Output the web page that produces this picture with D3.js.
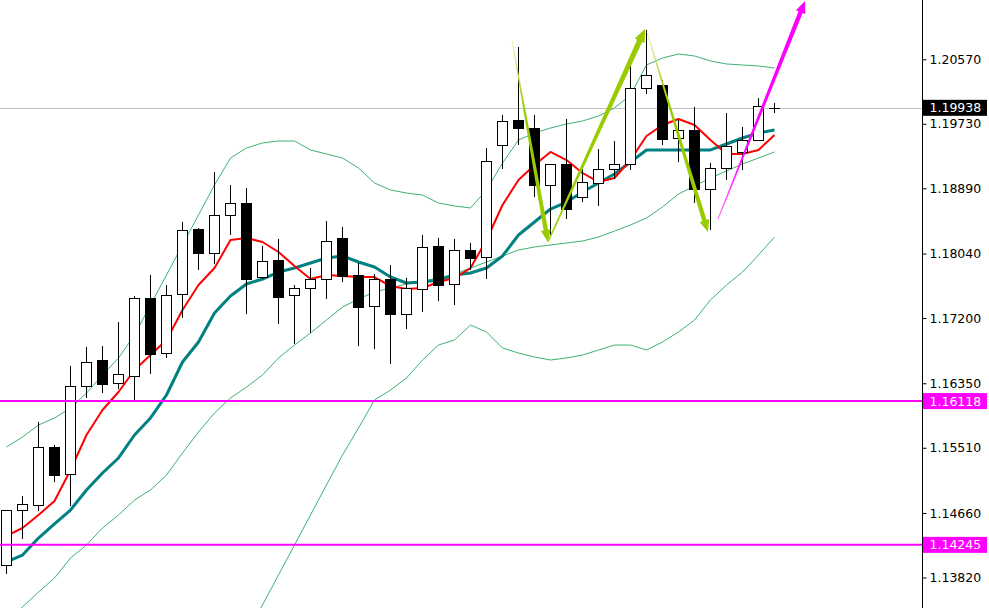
<!DOCTYPE html>
<html><head><meta charset="utf-8">
<script src="https://cdn.jsdelivr.net/npm/d3@7"></script>
<style>html,body{margin:0;padding:0;background:#fff;overflow:hidden}</style>
</head><body>
<svg id="c" width="989" height="608"></svg>
<script>
// ---- data ----
const opens = [1.13979,1.14695,1.14760,1.15520,1.15164,1.16311,1.16653,1.16350,1.16449,1.17461,1.16740,1.17509,1.18356,1.18043,1.18538,1.18698,1.17730,1.17952,1.17496,1.17587,1.17704,1.18238,1.17756,1.17353,1.17704,1.17248,1.17574,1.18134,1.17639,1.18086,1.17995,1.19450,1.19775,1.19671,1.18929,1.19202,1.18772,1.18955,1.19137,1.19202,1.20196,1.20235,1.19541,1.19645,1.18877,1.19150,1.19359,1.19515,1.19938];
const highs = [1.14705,1.14882,1.15842,1.15546,1.16575,1.16822,1.16835,1.17144,1.17487,1.17760,1.17630,1.18451,1.18373,1.19102,1.18933,1.18890,1.18138,1.18225,1.17630,1.17848,1.18464,1.18382,1.17913,1.17773,1.17887,1.17725,1.18281,1.18242,1.18229,1.18173,1.19411,1.19845,1.20734,1.19845,1.19202,1.19788,1.19223,1.19402,1.19506,1.20505,1.20952,1.20300,1.19779,1.19945,1.19215,1.19867,1.19688,1.20062,1.20001];
const lows = [1.13882,1.14331,1.14695,1.15081,1.14768,1.16175,1.16240,1.16292,1.16115,1.16488,1.16696,1.17217,1.17842,1.17920,1.18298,1.17269,1.17725,1.17139,1.16878,1.17018,1.17465,1.17686,1.16852,1.16806,1.16610,1.17066,1.17295,1.17439,1.17386,1.17835,1.17717,1.19158,1.19463,1.18793,1.18268,1.18499,1.18728,1.18668,1.19020,1.19137,1.20135,1.19467,1.19249,1.18715,1.18356,1.19007,1.19137,1.19515,1.19884];
const closes = [1.14699,1.14773,1.15520,1.15159,1.16311,1.16623,1.16344,1.16467,1.17457,1.16735,1.17496,1.18343,1.18051,1.18538,1.18694,1.17704,1.17939,1.17478,1.17587,1.17704,1.18199,1.17751,1.17347,1.17704,1.17248,1.17587,1.18121,1.17634,1.18086,1.17988,1.19241,1.19770,1.19671,1.18937,1.19202,1.18616,1.18968,1.19137,1.19202,1.20192,1.20362,1.19536,1.19645,1.18877,1.19150,1.19437,1.19515,1.19958,1.19938];

const maFast = [1.14361,1.14465,1.14634,1.14816,1.15220,1.15676,1.16002,1.16236,1.16523,1.16718,1.16914,1.17304,1.17630,1.17851,1.18216,1.18242,1.18190,1.18060,1.17877,1.17708,1.17760,1.17747,1.17734,1.17734,1.17617,1.17578,1.17591,1.17669,1.17721,1.17851,1.18216,1.18672,1.18998,1.19193,1.19363,1.19258,1.19089,1.18972,1.19024,1.19258,1.19571,1.19714,1.19792,1.19714,1.19519,1.19336,1.19336,1.19389,1.19584];
const maSlow = [1.14022,1.14113,1.14334,1.14517,1.14699,1.14960,1.15181,1.15377,1.15676,1.15898,1.16197,1.16627,1.16888,1.17265,1.17487,1.17643,1.17708,1.17799,1.17851,1.17917,1.17982,1.18008,1.17930,1.17865,1.17734,1.17656,1.17669,1.17695,1.17760,1.17786,1.17851,1.18008,1.18281,1.18451,1.18620,1.18711,1.18841,1.18959,1.19076,1.19232,1.19389,1.19389,1.19389,1.19389,1.19389,1.19467,1.19545,1.19610,1.19649];
const bandUpper = [1.15520,1.15650,1.15806,1.15898,1.16028,1.16223,1.16458,1.16679,1.16979,1.17370,1.17760,1.18151,1.18542,1.18933,1.19284,1.19415,1.19480,1.19506,1.19506,1.19389,1.19336,1.19284,1.19154,1.18959,1.18868,1.18828,1.18802,1.18698,1.18659,1.18633,1.18868,1.19219,1.19519,1.19610,1.19675,1.19727,1.19766,1.19831,1.19936,1.20105,1.20496,1.20587,1.20639,1.20613,1.20548,1.20509,1.20496,1.20483,1.20457];
const bandLower = [1.13240,1.13436,1.13631,1.13813,1.14074,1.14243,1.14465,1.14634,1.14829,1.14960,1.15155,1.15442,1.15715,1.15963,1.16158,1.16301,1.16458,1.16679,1.16848,1.17005,1.17174,1.17343,1.17448,1.17539,1.17591,1.17643,1.17682,1.17721,1.17773,1.17851,1.17930,1.18008,1.18086,1.18125,1.18151,1.18177,1.18203,1.18255,1.18333,1.18412,1.18503,1.18646,1.18815,1.18920,1.19024,1.19115,1.19206,1.19284,1.19363];
const bandLowerOuter = [null,null,null,null,null,null,null,null,null,null,null,null,null,null,1.12680,1.13071,1.13462,1.13853,1.14243,1.14634,1.15025,1.15416,1.15767,1.16132,1.16262,1.16419,1.16653,1.16848,1.16914,1.17109,1.17018,1.16809,1.16744,1.16692,1.16653,1.16679,1.16718,1.16783,1.16848,1.16848,1.16783,1.16888,1.17018,1.17174,1.17435,1.17630,1.17799,1.18021,1.18255];

const tickLabels = [1.20570,1.19730,1.18890,1.18040,1.17200,1.16350,1.15510,1.14660,1.13820];
const bidPrice = 1.19938;
const levelLines = [1.16118, 1.14245];

// arrows: [startIndex, startPrice, endIndex, endPrice]
const greenArrows = [
  [31.59, 1.20821, 33.84, 1.18190],
  [33.84, 1.18190, 39.91, 1.20965],
  [40.03, 1.20926, 43.84, 1.18320]
];
const magentaArrow = [44.47, 1.18490, 49.91, 1.21329];

// ---- chart ----
const W = 989, H = 608, plotR = 922;
const svg = d3.select('#c');
const x = d3.scaleLinear().domain([0, 48]).range([6.5, 774.5]);
const y = d3.scaleLinear().domain([1.13820, 1.20570]).range([577.5, 59.3]);
const py = v => Math.round(y(v));

svg.append('defs').append('clipPath').attr('id','plot')
  .append('rect').attr('x',0).attr('y',0).attr('width',plotR).attr('height',H);

const g = svg.append('g').attr('clip-path','url(#plot)');

// bid line
g.append('line').attr('x1',0).attr('x2',plotR)
  .attr('y1',py(bidPrice)+0.5).attr('y2',py(bidPrice)+0.5)
  .attr('stroke','#c0c0c0').attr('stroke-width',1);

const lineGen = d3.line().defined(d => d != null).x((d,i) => x(i)).y(d => y(d));
function drawLine(data, color, w){
  g.append('path').datum(data).attr('d', lineGen)
    .attr('fill','none').attr('stroke',color).attr('stroke-width',w)
    .attr('stroke-linejoin','round');
}
drawLine(bandUpper, '#3cb371', 1);
drawLine(bandLower, '#3cb371', 1);
drawLine(bandLowerOuter, '#3cb371', 1);
drawLine(maSlow, '#008080', 3);
drawLine(maFast, '#ff0000', 2);

// candles
const idx = d3.range(opens.length);
const cg = g.append('g');
idx.forEach(i => {
  const cx = Math.floor(x(i)) + 0.5;
  const o = opens[i], c = closes[i];
  cg.append('line').attr('x1',cx).attr('x2',cx)
    .attr('y1',py(highs[i])).attr('y2',py(lows[i])+1)
    .attr('stroke','#000').attr('stroke-width',1);
  if (Math.abs(py(o) - py(c)) < 1) {
    cg.append('line').attr('x1',cx-5.5).attr('x2',cx+5.5)
      .attr('y1',py(c)+0.5).attr('y2',py(c)+0.5).attr('stroke','#000');
  } else {
    const top = py(Math.max(o,c)), bot = py(Math.min(o,c));
    cg.append('rect').attr('x',cx-5).attr('y',top+0.5)
      .attr('width',10).attr('height',bot-top)
      .attr('fill', c >= o ? '#fff' : '#000').attr('stroke','#000').attr('stroke-width',1);
  }
});

// horizontal level lines
levelLines.forEach(v => {
  g.append('line').attr('x1',0).attr('x2',plotR)
    .attr('y1',y(v)).attr('y2',y(v))
    .attr('stroke','#ff00ff').attr('stroke-width',2);
});

// arrows
const defs = svg.select('defs');
function arrow(a, k, c0, c1, w0, w1, hl, hw){
  const x0 = x(a[0]), y0 = y(a[1]), x1 = x(a[2]), y1 = y(a[3]);
  const dx = x1-x0, dy = y1-y0, L = Math.hypot(dx,dy);
  const ux = dx/L, uy = dy/L, nx = -uy, ny = ux;
  const bx = x1 - ux*hl, by = y1 - uy*hl;
  const pts = [
    [x0 + nx*w0/2, y0 + ny*w0/2],
    [bx + nx*w1/2, by + ny*w1/2],
    [bx + nx*hw/2, by + ny*hw/2],
    [x1, y1],
    [bx - nx*hw/2, by - ny*hw/2],
    [bx - nx*w1/2, by - ny*w1/2],
    [x0 - nx*w0/2, y0 - ny*w0/2]
  ];
  const gid = 'ag'+k;
  const lg = defs.append('linearGradient').attr('id',gid).attr('gradientUnits','userSpaceOnUse')
    .attr('x1',x0).attr('y1',y0).attr('x2',x1).attr('y2',y1);
  lg.append('stop').attr('offset','0').attr('stop-color',c0);
  lg.append('stop').attr('offset','0.35').attr('stop-color',c1);
  lg.append('stop').attr('offset','1').attr('stop-color',c1);
  svg.append('path').attr('d','M'+pts.map(p=>p.join(',')).join('L')+'Z')
    .attr('fill','url(#'+gid+')');
}
arrow(greenArrows[0], 0, '#e2f2a8', '#99cc00', 0.8, 4.5, 12, 10);
arrow(greenArrows[1], 1, '#a8d420', '#99cc00', 1.5, 5.5, 13, 11);
arrow(greenArrows[2], 2, '#e2f2a8', '#99cc00', 0.8, 4.5, 12, 10);
arrow(magentaArrow, 3, '#ff66ff', '#ff00ff', 1, 4.5, 12, 10);

// right axis
svg.append('line').attr('x1',plotR+0.5).attr('x2',plotR+0.5).attr('y1',0).attr('y2',H)
  .attr('stroke','#000').attr('stroke-width',1);
const axis = d3.axisRight(y).tickValues(tickLabels).tickSize(4).tickSizeOuter(0)
  .tickFormat(d3.format('.5f'));
const ag = svg.append('g').attr('transform',`translate(${plotR+0.5},0)`).call(axis);
ag.select('.domain').remove();
ag.selectAll('.tick line').attr('stroke','#000');
ag.selectAll('.tick text').attr('x',7).attr('fill','#000')
  .style('font-family','"DejaVu Sans", Verdana, sans-serif').style('font-size','12.5px');

// price labels
function priceLabel(v, bg){
  const yy = y(v);
  svg.append('rect').attr('x',plotR+1).attr('y',yy-8).attr('width',64).attr('height',16).attr('fill',bg);
  svg.append('text').attr('x',plotR+7.5).attr('y',yy).attr('dy','0.36em')
    .attr('fill','#fff').style('font-family','"DejaVu Sans", Verdana, sans-serif').style('font-size','12.5px')
    .text(d3.format('.5f')(v));
}
priceLabel(bidPrice, '#000');
levelLines.forEach(v => priceLabel(v, '#ff00ff'));
</script>
</body></html>
